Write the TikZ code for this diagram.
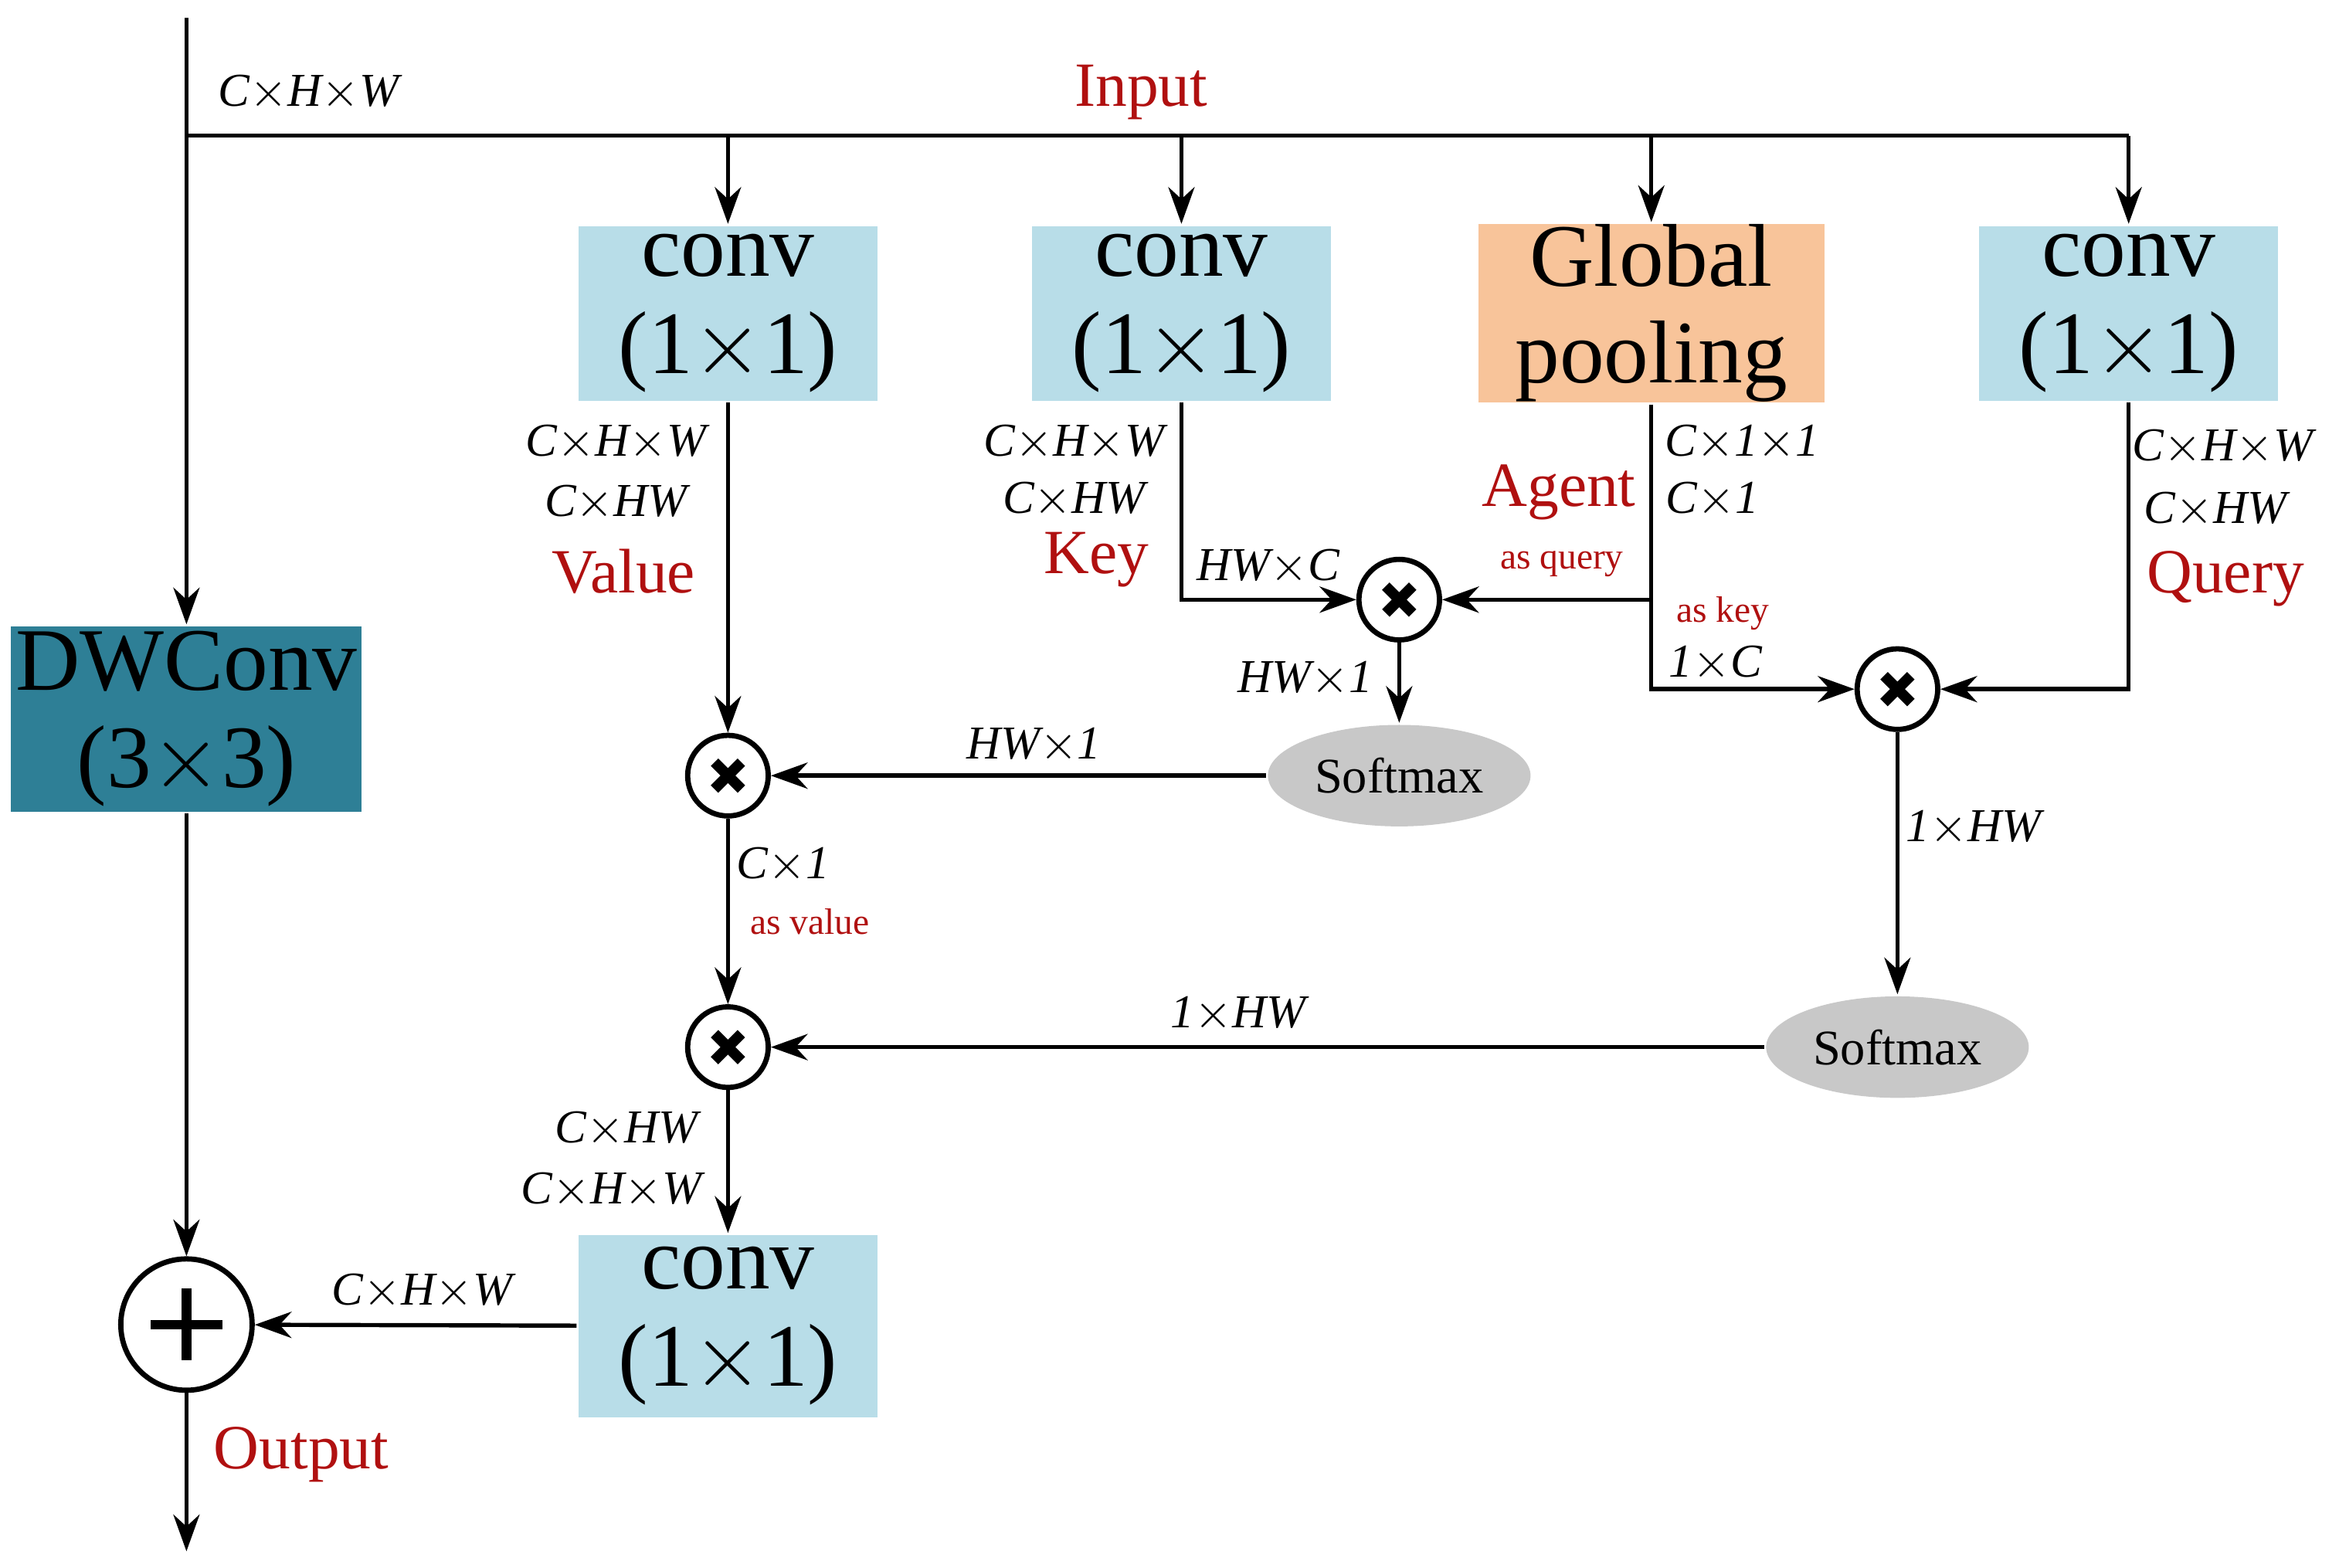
\documentclass[tikz,border=0pt]{standalone}
\usepackage{fontspec}
\setmainfont{Liberation Serif}
\usetikzlibrary{arrows.meta,shapes.geometric}
\definecolor{lb}{HTML}{B8DDE8}
\definecolor{og}{HTML}{F8C49A}
\definecolor{tl}{HTML}{2E7F96}
\definecolor{rd}{HTML}{B01010}
\definecolor{sm}{HTML}{C8C8C8}
\begin{document}
\begin{tikzpicture}[x=0.01cm,y=-0.01cm,line width=0.8pt,
 arr/.style={-{Stealth[length=7pt,width=5pt]}},
 bx/.style={draw=none,minimum width=2cm,minimum height=1.17cm,align=center,font=\fontsize{17}{18.5}\selectfont,inner sep=0pt},
 dim/.style={font=\itshape\fontsize{9}{11}\selectfont},
 red/.style={text=rd,font=\fontsize{12}{14}\selectfont},
 sred/.style={text=rd,font=\fontsize{7}{9}\selectfont},
 otm/.style={circle,draw,fill=white,minimum size=0.54cm,inner sep=0pt,line width=1pt},
 smx/.style={ellipse,fill=sm,minimum width=1.76cm,minimum height=0.68cm,inner sep=0pt,font=\fontsize{9.5}{11}\selectfont}]
\useasboundingbox (0,0) rectangle (1568,1051);
% boxes
\node[bx,fill=lb] (c1) at (488,210) {conv\\(1$\times$1)};
\node[bx,fill=lb] (c2) at (792,210) {conv\\(1$\times$1)};
\node[bx,fill=og,minimum width=2.32cm] (gp) at (1107,210) {Global\\pooling};
\node[bx,fill=lb] (c4) at (1427,210) {conv\\(1$\times$1)};
\node[bx,fill=tl,minimum width=2.35cm,minimum height=1.24cm] (dw) at (125,482) {DWConv\\(3$\times$3)};
\node[bx,fill=lb,minimum height=1.22cm] (c5) at (488,889) {conv\\(1$\times$1)};
% ops
\foreach \n/\x/\y in {m1/938/402,m2/488/520,m3/1272/462,m4/488/702}{
 \node[otm] (\n) at (\x,\y) {};
 \draw[line width=2pt] ([shift={(-9,-9)}]\n.center) -- ([shift={(9,9)}]\n.center) ([shift={(-9,9)}]\n.center) -- ([shift={(9,-9)}]\n.center);}
\node[circle,draw,minimum size=0.88cm,inner sep=0pt,line width=1pt] (pl) at (125,888) {};
\draw[line width=1.8pt] ([shift={(-24,0)}]pl.center) -- ([shift={(24,0)}]pl.center) ([shift={(0,-24)}]pl.center) -- ([shift={(0,24)}]pl.center);
\node[smx] (s1) at (938,520) {Softmax};
\node[smx] (s2) at (1272,702) {Softmax};
% input lines
\coordinate (top) at (125,12);
\coordinate (hl) at (125,91);
\coordinate (hr) at (1427,91);
\draw (top) -- (hl) -- (hr);
\draw[arr] (top) -- (dw.north);
\foreach \b in {c1,c2,gp,c4}{\draw[arr] (\b.north|-hl) -- (\b.north);}
% connections
\draw[arr] (c1.south) -- (m2);
\coordinate (k1) at (792,402);
\draw[arr] (c2.south) -- (k1) -- (m1);
\coordinate (g1) at (1107,402);
\coordinate (g2) at (1107,462);
\draw[arr] (gp.south) -- (g2) -- (m3);
\draw[arr] (g1) -- (m1);
\coordinate (q1) at (1427,462);
\draw[arr] (c4.south) -- (q1) -- (m3);
\draw[arr] (m1) -- (s1);
\draw[arr] (s1) -- (m2);
\draw[arr] (m2) -- (m4);
\draw[arr] (m3) -- (s2);
\draw[arr] (s2) -- (m4);
\draw[arr] (m4) -- (c5);
\draw[arr] (c5) -- (pl);
\draw[arr] (dw.south) -- (pl);
\coordinate (out) at (125,1040);
\draw[arr] (pl) -- (out);
% labels
\node[dim] (l1) at (207,62) {C$\times$H$\times$W};
\node[red] (l2) at (765,62) {Input};
\node[dim] (l3) at (413,297) {C$\times$H$\times$W};
\node[dim] (l4) at (413,337) {C$\times$HW};
\node[red] (l5) at (418,383) {Value};
\node[dim] (l6) at (720,297) {C$\times$H$\times$W};
\node[dim] (l7) at (720,335) {C$\times$HW};
\node[red] (l8) at (735,375) {Key};
\node[dim] (l9) at (850,380) {HW$\times$C};
\node[dim] (l10) at (1168,297) {C$\times$1$\times$1};
\node[dim] (l11) at (1148,335) {C$\times$1};
\node[red] (l12) at (1045,330) {Agent};
\node[sred] (l13) at (1047,378) {as query};
\node[sred] (l14) at (1155,411) {as key};
\node[dim] (l15) at (1150,445) {1$\times$C};
\node[dim] (l16) at (1490,300) {C$\times$H$\times$W};
\node[dim] (l17) at (1485,342) {C$\times$HW};
\node[red] (l18) at (1492,388) {Query};
\node[dim] (l19) at (875,455) {HW$\times$1};
\node[dim] (l20) at (693,500) {HW$\times$1};
\node[dim] (l21) at (525,580) {C$\times$1};
\node[sred] (l22) at (543,618) {as value};
\node[dim] (l23) at (1323,555) {1$\times$HW};
\node[dim] (l24) at (830,680) {1$\times$HW};
\node[dim] (l25) at (420,757) {C$\times$HW};
\node[dim] (l26) at (410,798) {C$\times$H$\times$W};
\node[dim] (l27) at (283,866) {C$\times$H$\times$W};
\node[red] (l28) at (202,975) {Output};
\end{tikzpicture}
\end{document}
